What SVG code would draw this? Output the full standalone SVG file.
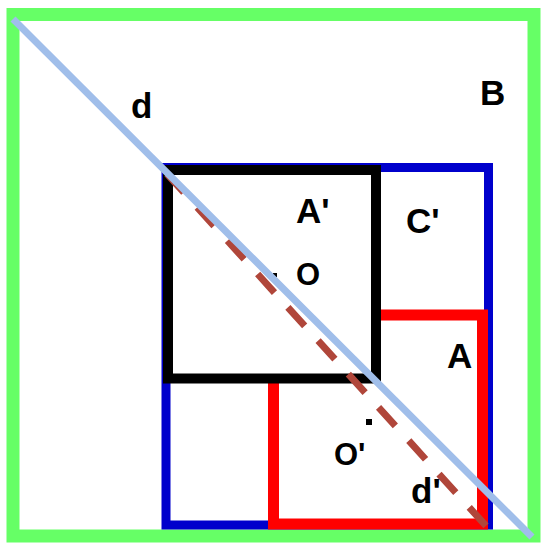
<svg xmlns="http://www.w3.org/2000/svg" width="547" height="550" viewBox="0 0 547 550">
  <style>
    .lbl { font-family: "Liberation Sans", Arial, sans-serif; font-weight: bold; font-size: 35px; fill: #000; }
    .sm { font-size: 31px; }
  </style>
  <rect width="547" height="550" fill="#fff"/>
  <g id="B">
    <rect x="13" y="14.5" width="521" height="521.5" fill="none" stroke="#66FF66" stroke-width="13"/>
  </g>
  <g id="C">
    <rect x="166" y="167.5" width="322.5" height="357.5" fill="none" stroke="#0000CC" stroke-width="9"/>
  </g>
  <g id="A">
    <rect x="273.5" y="315" width="209" height="209" fill="none" stroke="#FF0000" stroke-width="11"/>
  </g>
  <g id="Aprime">
    <rect x="168" y="170" width="208" height="208.5" fill="#fff" stroke="#000" stroke-width="10"/>
  </g>
  <g id="points">
    <rect x="273" y="273" width="4" height="4" fill="#000"/>
    <rect x="366" y="419" width="6" height="6" fill="#000"/>
  </g>
  <g id="connectors">
    <line x1="167" y1="174" x2="487" y2="527" stroke="#B0463A" stroke-width="7" stroke-dasharray="25 20"/>
    <line x1="13" y1="19" x2="532" y2="537" stroke="#A0BEEA" stroke-width="7"/>
  </g>
  <g id="labels">
    <text class="lbl" x="480" y="105">B</text>
    <text class="lbl" x="131" y="118">d</text>
    <text class="lbl" x="296" y="223">A'</text>
    <text class="lbl" x="406" y="233">C'</text>
    <text class="lbl sm" x="296" y="285">O</text>
    <text class="lbl" x="447" y="368">A</text>
    <text class="lbl sm" x="334" y="465">O'</text>
    <text class="lbl" x="411" y="503">d'</text>
  </g>
</svg>
